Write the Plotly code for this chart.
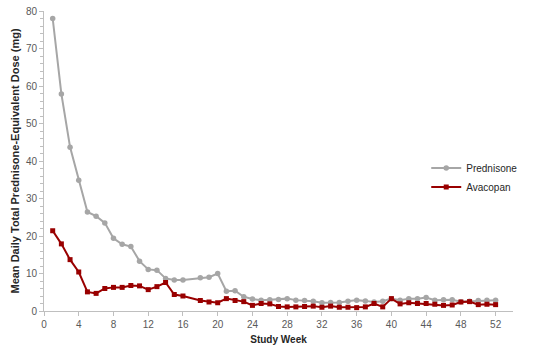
import plotly.graph_objects as go

weeks = [1, 2, 3, 4, 5, 6, 7, 8, 9, 10, 11, 12, 13, 14, 15, 16,
         18, 19, 20, 21, 22, 23, 24, 25, 26, 27, 28, 29, 30, 31, 32, 33, 34, 35,
         36, 37, 38, 39, 40, 41, 42, 43, 44, 45, 46, 47, 48, 49, 50, 51, 52]

prednisone = [78.0, 57.9, 43.7, 34.9, 26.4, 25.3, 23.5, 19.4, 17.8, 17.2, 13.3, 11.1, 10.9, 8.7, 8.3, 8.3,
              8.9, 9.0, 10.0, 5.3, 5.4, 3.8, 3.2, 2.9, 3.0, 3.1, 3.3, 2.9, 2.8, 2.6, 2.2, 2.3, 2.3, 2.6,
              2.9, 2.7, 2.4, 2.6, 3.3, 2.9, 3.3, 3.3, 3.6, 2.9, 3.0, 3.0, 2.5, 2.6, 2.8, 2.9, 2.9]

avacopan = [21.4, 17.9, 13.7, 10.4, 5.1, 4.7, 6.0, 6.3, 6.3, 6.8, 6.7, 5.7, 6.5, 7.6, 4.4, 4.0,
            2.8, 2.4, 2.2, 3.3, 2.8, 2.5, 1.5, 2.0, 1.9, 1.2, 1.1, 1.1, 1.2, 1.3, 1.0, 1.3, 1.0, 1.0,
            0.9, 1.1, 2.0, 1.1, 3.3, 1.9, 2.2, 2.0, 2.0, 1.8, 1.5, 1.6, 2.4, 2.5, 1.7, 1.8, 1.7]

x_ticks = list(range(0, 53, 4))
y_ticks = list(range(0, 81, 10))

fig = go.Figure()
fig.add_trace(go.Scatter(
    x=weeks, y=prednisone, name="Prednisone", mode="lines+markers",
    line=dict(color="#a6a6a6", width=2),
    marker=dict(symbol="circle", size=5.5, color="#a6a6a6"),
))
fig.add_trace(go.Scatter(
    x=weeks, y=avacopan, name="Avacopan", mode="lines+markers",
    line=dict(color="#990000", width=2),
    marker=dict(symbol="square", size=5, color="#990000"),
))

axis_font = dict(family="Liberation Sans, Arial, sans-serif", size=10, color="#595959")
title_font = dict(family="Liberation Sans, Arial, sans-serif", size=10, color="#262626")
ytitle_font = dict(family="Liberation Sans, Arial, sans-serif", size=11, color="#262626")

fig.update_layout(
    width=534, height=356,
    margin=dict(l=44, r=14, t=11, b=45),
    paper_bgcolor="white", plot_bgcolor="white",
    showlegend=True,
    legend=dict(x=0.815, y=0.525, xanchor="left", yanchor="top",
                font=dict(family="Liberation Sans, Arial, sans-serif", size=10, color="#262626"),
                bgcolor="rgba(0,0,0,0)", itemwidth=30, tracegroupgap=2),
    xaxis=dict(
        range=[0, 54], tickvals=x_ticks, ticktext=[str(v) for v in x_ticks],
        showgrid=False, zeroline=False, showline=True, linecolor="#bfbfbf", linewidth=1,
        ticks="outside", ticklen=4, tickcolor="#bfbfbf", tickfont=axis_font,
        automargin=False,
        title=dict(text="<b>Study Week</b>", font=title_font, standoff=6),
    ),
    yaxis=dict(
        range=[0, 80], tickvals=y_ticks, ticktext=[str(v) for v in y_ticks],
        showgrid=False, zeroline=False, showline=True, linecolor="#bfbfbf", linewidth=1,
        ticks="outside", ticklen=4, tickcolor="#bfbfbf", tickfont=axis_font,
        automargin=False,
        minor=dict(dtick=2, ticks="outside", ticklen=3, tickcolor="#bfbfbf", showgrid=False),
        title=dict(text="<b>Mean Daily Total Prednisone-Equivalent Dose (mg)</b>", font=ytitle_font, standoff=4),
    ),
)

# remove the default 8px page margin so the figure sits at the window's top-left corner
fig.write_html("out.html", config={"displayModeBar": False},
               post_script="document.body.style.margin='0px';")
